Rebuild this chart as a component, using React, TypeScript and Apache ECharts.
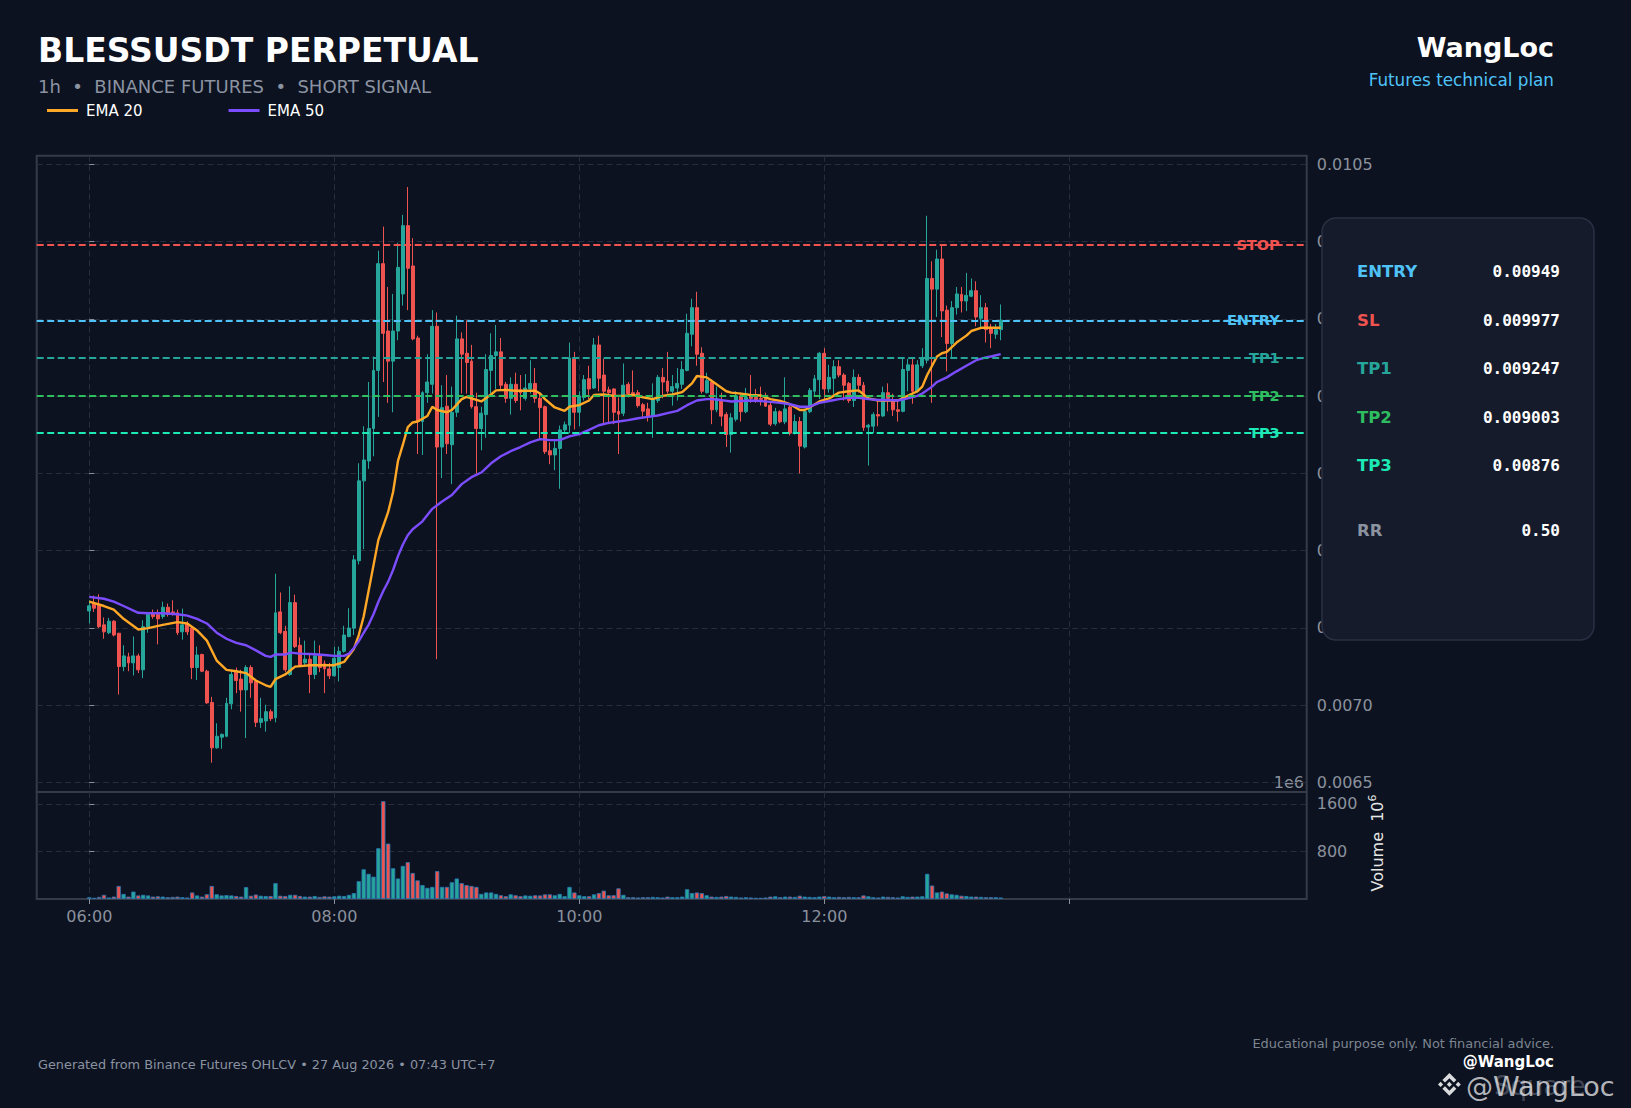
import React, { useEffect, useRef } from "react";
import * as echarts from "echarts";

const W = 1631;
const H = 1108;
const BG = "#0c1220";
const UP = "#26a69a";
const DOWN = "#ef5350";
const GRID_LINE = "#262d3b";
const AXIS_TEXT = "#8b919c";
const FONT = '"DejaVu Sans", sans-serif';
const MONO = '"DejaVu Sans Mono", monospace';

// ---- data ----
const OPEN = [
  0.007609, 0.007657, 0.007648, 0.007519, 0.007468, 0.007543, 0.007465, 0.007249, 0.007312, 0.007273,
  0.007318, 0.007228, 0.007507, 0.007588, 0.007588, 0.007573, 0.007633, 0.007603, 0.007597, 0.007474,
  0.007528, 0.007498, 0.007243, 0.007327, 0.007219, 0.007017, 0.006723, 0.006792, 0.006798, 0.007008,
  0.007213, 0.007168, 0.007098, 0.007243, 0.007153, 0.006888, 0.006897, 0.006957, 0.006918, 0.007603,
  0.007477, 0.007198, 0.007663, 0.007387, 0.007273, 0.007297, 0.007198, 0.007318, 0.007267, 0.007234,
  0.007189, 0.007243, 0.007348, 0.007444, 0.007498, 0.007934, 0.008451, 0.00858, 0.00879, 0.009166,
  0.009857, 0.009421, 0.009226, 0.009421, 0.009661, 0.010103, 0.009842, 0.009376, 0.008835, 0.009022,
  0.009076, 0.009452, 0.00867, 0.008934, 0.008685, 0.008895, 0.00937, 0.009277, 0.009226, 0.008931,
  0.00879, 0.00888, 0.009166, 0.009262, 0.009286, 0.009076, 0.008985, 0.009076, 0.00904, 0.008985,
  0.009046, 0.009082, 0.008985, 0.008931, 0.008646, 0.008619, 0.008661, 0.008781, 0.008811, 0.009241,
  0.008895, 0.008991, 0.009112, 0.009052, 0.009331, 0.009136, 0.00904, 0.009046, 0.008901, 0.008889,
  0.009076, 0.009022, 0.009022, 0.008944, 0.008917, 0.00887, 0.008971, 0.009121, 0.009097, 0.009031,
  0.009052, 0.009076, 0.009166, 0.0094, 0.009572, 0.009277, 0.009022, 0.009091, 0.008911, 0.008977,
  0.00888, 0.008751, 0.00885, 0.009001, 0.008899, 0.00901, 0.008992, 0.008985, 0.008985, 0.008941,
  0.008821, 0.008899, 0.008833, 0.008929, 0.00876, 0.008835, 0.00867, 0.008899, 0.009031, 0.009106,
  0.009277, 0.009046, 0.009115, 0.00919, 0.009136, 0.009082, 0.008971, 0.009121, 0.00907, 0.008799,
  0.008805, 0.00888, 0.008871, 0.009022, 0.008977, 0.008911, 0.008901, 0.009166, 0.009202, 0.009031,
  0.009196, 0.009232, 0.009761, 0.009692, 0.009887, 0.009556, 0.00934, 0.009572, 0.009658, 0.009615,
  0.009646, 0.009682, 0.009503, 0.009572, 0.009442, 0.0094, 0.00943,
];
const CLOSE = [
  0.007642, 0.007627, 0.007507, 0.007474, 0.007543, 0.007453, 0.007249, 0.007318, 0.007273, 0.007318,
  0.007228, 0.007507, 0.007588, 0.007573, 0.007558, 0.007633, 0.007588, 0.007588, 0.007468, 0.007519,
  0.007474, 0.007243, 0.007324, 0.007219, 0.007014, 0.006723, 0.006798, 0.00681, 0.007011, 0.007198,
  0.007159, 0.007098, 0.007243, 0.007144, 0.006888, 0.006912, 0.006957, 0.006912, 0.007597, 0.007468,
  0.007228, 0.007663, 0.007378, 0.007258, 0.007297, 0.007198, 0.007318, 0.007243, 0.007234, 0.007189,
  0.007303, 0.007348, 0.007453, 0.007498, 0.00794, 0.008451, 0.008586, 0.00879, 0.009166, 0.009857,
  0.009406, 0.009226, 0.009421, 0.009833, 0.010103, 0.009827, 0.00937, 0.008835, 0.009022, 0.009091,
  0.009452, 0.00867, 0.008925, 0.008691, 0.008895, 0.00937, 0.009271, 0.009217, 0.008931, 0.00879,
  0.008889, 0.009172, 0.009262, 0.009286, 0.00907, 0.008985, 0.009076, 0.008971, 0.009022, 0.009052,
  0.009082, 0.008985, 0.008925, 0.00864, 0.008619, 0.008661, 0.008781, 0.008814, 0.009247, 0.008895,
  0.009001, 0.009106, 0.009046, 0.009331, 0.009115, 0.009031, 0.009022, 0.008895, 0.008883, 0.00907,
  0.009016, 0.00901, 0.008938, 0.008902, 0.00887, 0.008974, 0.009121, 0.009091, 0.009031, 0.009061,
  0.009082, 0.009172, 0.009406, 0.009572, 0.009271, 0.009031, 0.0091, 0.008911, 0.008985, 0.00887,
  0.008751, 0.008859, 0.009001, 0.008899, 0.008992, 0.008985, 0.008977, 0.008979, 0.008935, 0.008818,
  0.008899, 0.008833, 0.008917, 0.00876, 0.008835, 0.008676, 0.008899, 0.009037, 0.009112, 0.009277,
  0.009046, 0.009121, 0.00919, 0.009136, 0.00907, 0.008971, 0.009121, 0.00907, 0.008796, 0.008811,
  0.00888, 0.008871, 0.009022, 0.008985, 0.008911, 0.008901, 0.009172, 0.009202, 0.009031, 0.009202,
  0.009241, 0.009761, 0.009692, 0.009887, 0.009551, 0.00934, 0.009572, 0.009661, 0.009615, 0.009652,
  0.009682, 0.009512, 0.009572, 0.00943, 0.009406, 0.00943, 0.009491,
];
const LOW = [
  0.007528, 0.007603, 0.007498, 0.007429, 0.007459, 0.007444, 0.007068, 0.007219, 0.007219, 0.007192,
  0.007207, 0.007174, 0.007468, 0.007558, 0.007393, 0.007558, 0.007573, 0.007579, 0.007453, 0.007423,
  0.007453, 0.007168, 0.007162, 0.007213, 0.007008, 0.006627, 0.006717, 0.006717, 0.006792, 0.006972,
  0.007077, 0.006957, 0.006786, 0.007047, 0.006858, 0.006852, 0.006828, 0.006897, 0.006888, 0.007459,
  0.007213, 0.007189, 0.007369, 0.007252, 0.007258, 0.007077, 0.007168, 0.007213, 0.007077, 0.007168,
  0.007183, 0.007153, 0.007339, 0.007438, 0.007453, 0.00791, 0.008009, 0.008529, 0.00861, 0.008865,
  0.009091, 0.008956, 0.008895, 0.009361, 0.009586, 0.009556, 0.009361, 0.008625, 0.008619, 0.008956,
  0.009016, 0.007297, 0.008469, 0.008625, 0.00843, 0.008865, 0.009016, 0.009016, 0.008919, 0.008499,
  0.008649, 0.00873, 0.009016, 0.009046, 0.009046, 0.008956, 0.00888, 0.008956, 0.008908, 0.008971,
  0.009016, 0.008956, 0.008715, 0.008625, 0.008559, 0.00852, 0.0084, 0.00876, 0.00876, 0.008784,
  0.008805, 0.008971, 0.00898, 0.009046, 0.009031, 0.008818, 0.008818, 0.008818, 0.008625, 0.00887,
  0.008991, 0.009001, 0.008925, 0.008865, 0.008835, 0.00873, 0.008956, 0.008985, 0.009016, 0.008938,
  0.008971, 0.009046, 0.00916, 0.009322, 0.009196, 0.009016, 0.009016, 0.008818, 0.008895, 0.008805,
  0.00867, 0.008634, 0.008835, 0.008835, 0.008889, 0.008956, 0.008956, 0.008938, 0.008929, 0.008805,
  0.008809, 0.008824, 0.008818, 0.008745, 0.008751, 0.008499, 0.008661, 0.008889, 0.009001, 0.00898,
  0.008959, 0.009022, 0.00901, 0.009121, 0.008971, 0.008956, 0.008929, 0.009022, 0.008775, 0.00855,
  0.00876, 0.008805, 0.008865, 0.008901, 0.008871, 0.008835, 0.008895, 0.009031, 0.00895, 0.009022,
  0.009181, 0.009211, 0.008956, 0.009512, 0.009382, 0.00916, 0.009241, 0.009527, 0.009541, 0.009551,
  0.00964, 0.009452, 0.009436, 0.009346, 0.00931, 0.00937, 0.009361,
];
const HIGH = [
  0.007678, 0.007708, 0.007717, 0.007567, 0.007564, 0.007549, 0.007465, 0.007387, 0.007339, 0.007444,
  0.007333, 0.007549, 0.007603, 0.007618, 0.007618, 0.007669, 0.007657, 0.007678, 0.007618, 0.007624,
  0.007543, 0.007513, 0.007378, 0.007333, 0.007228, 0.007053, 0.006882, 0.006816, 0.007047, 0.007228,
  0.007243, 0.007228, 0.007258, 0.007258, 0.007153, 0.007047, 0.007002, 0.006972, 0.00785, 0.007729,
  0.007513, 0.007769, 0.007714, 0.007438, 0.007417, 0.007333, 0.007417, 0.007387, 0.007288, 0.007273,
  0.007378, 0.007378, 0.007513, 0.007627, 0.00797, 0.008565, 0.008805, 0.009091, 0.009256, 0.009941,
  0.010097, 0.009706, 0.009661, 0.009992, 0.010173, 0.010353, 0.010022, 0.009391, 0.009031, 0.009271,
  0.009556, 0.009541, 0.00907, 0.009136, 0.009061, 0.00952, 0.009412, 0.00949, 0.009331, 0.009022,
  0.008931, 0.009271, 0.009406, 0.00946, 0.009376, 0.009091, 0.009121, 0.009151, 0.009136, 0.009142,
  0.009232, 0.009181, 0.009022, 0.008938, 0.0087, 0.008715, 0.008809, 0.008835, 0.009346, 0.009286,
  0.009031, 0.009136, 0.009196, 0.009376, 0.009391, 0.009241, 0.009061, 0.009052, 0.008991, 0.009211,
  0.009091, 0.009166, 0.00904, 0.008956, 0.008956, 0.009082, 0.009136, 0.009181, 0.009286, 0.009136,
  0.009181, 0.009226, 0.009533, 0.00963, 0.009675, 0.009316, 0.009151, 0.009106, 0.009061, 0.009022,
  0.008895, 0.008889, 0.009031, 0.009022, 0.009052, 0.009136, 0.009046, 0.009061, 0.009022, 0.008956,
  0.008923, 0.008908, 0.009121, 0.008938, 0.00888, 0.008865, 0.008919, 0.009052, 0.009136, 0.009286,
  0.00931, 0.009202, 0.009232, 0.009232, 0.009148, 0.009091, 0.009172, 0.009142, 0.009091, 0.00882,
  0.008895, 0.008971, 0.009061, 0.009082, 0.009016, 0.008971, 0.009241, 0.009241, 0.009241, 0.009232,
  0.00931, 0.010167, 0.009872, 0.009947, 0.009971, 0.009586, 0.009615, 0.009706, 0.009706, 0.009797,
  0.009761, 0.009743, 0.009653, 0.009602, 0.009466, 0.009466, 0.009593,
];
const VOLUME = [
  30, 20, 35, 70, 25, 40, 220, 86, 40, 125,
  60, 70, 60, 40, 45, 40, 30, 35, 40, 30,
  25, 110, 60, 40, 80, 220, 80, 60, 65, 60,
  50, 40, 200, 55, 75, 55, 50, 50, 267, 55,
  50, 70, 70, 50, 40, 40, 50, 35, 45, 40,
  45, 55, 50, 70, 100, 300, 500, 424, 376, 855,
  1647, 933, 518, 345, 557, 620, 439, 314, 235, 188,
  204, 470, 204, 204, 282, 345, 267, 235, 220, 204,
  86, 110, 110, 86, 63, 47, 78, 63, 47, 60,
  55, 63, 60, 78, 78, 63, 86, 47, 204, 110,
  63, 47, 47, 78, 100, 141, 63, 63, 180, 70,
  30, 30, 25, 30, 30, 35, 30, 25, 40, 30,
  30, 40, 165, 100, 110, 100, 63, 40, 35, 40,
  50, 40, 35, 25, 30, 25, 20, 20, 25, 40,
  45, 30, 40, 40, 35, 55, 40, 35, 30, 40,
  50, 40, 30, 35, 30, 35, 30, 30, 60, 45,
  30, 25, 40, 35, 30, 25, 45, 35, 40, 40,
  45, 424, 227, 110, 125, 94, 78, 70, 55, 50,
  40, 40, 35, 30, 30, 30, 25,
];
const EMA20 = [
  [0, 0.007669], [3, 0.007641], [5, 0.007618], [7, 0.007558], [10, 0.007489], [12, 0.007498], [15, 0.007519],
  [18, 0.007537], [20, 0.007528], [22, 0.007483], [24, 0.007417], [26, 0.007288], [28, 0.007228], [30, 0.007219],
  [32, 0.007207], [34, 0.007159], [36, 0.007128], [37, 0.007117], [38, 0.007168], [40, 0.007198], [42, 0.007249],
  [45, 0.007258], [48, 0.007258], [50, 0.007258], [52, 0.007279], [54, 0.007363], [55, 0.007453], [56, 0.007573],
  [57, 0.007738], [58, 0.007904], [59, 0.008069], [60, 0.008159], [61, 0.00825], [62, 0.008379], [63, 0.00858],
  [64, 0.008685], [65, 0.008799], [66, 0.008829], [67, 0.008835], [69, 0.008871], [70, 0.008931], [71, 0.00891],
  [73, 0.008895], [74, 0.00891], [76, 0.00898], [77, 0.008995], [78, 0.008985], [80, 0.008965], [82, 0.00901],
  [83, 0.009037], [85, 0.00904], [87, 0.009034], [89, 0.009034], [91, 0.009034], [92, 0.009016], [93, 0.00898],
  [95, 0.008926], [97, 0.008904], [98, 0.008931], [100, 0.008941], [102, 0.008971], [103, 0.009007], [105, 0.00901],
  [107, 0.009001], [109, 0.009001], [111, 0.009007], [113, 0.008992], [115, 0.00898], [117, 0.009001], [119, 0.00901],
  [121, 0.009025], [123, 0.009082], [124, 0.00913], [126, 0.009121], [128, 0.009076], [130, 0.009031], [131, 0.009022],
  [133, 0.009016], [135, 0.009007], [137, 0.009004], [139, 0.00898], [141, 0.008968], [143, 0.008947], [145, 0.00891],
  [146, 0.00891], [147, 0.008926], [149, 0.008965], [151, 0.008985], [153, 0.009022], [155, 0.009031], [157, 0.009037],
  [159, 0.008985], [161, 0.008971], [163, 0.008971], [165, 0.008971], [167, 0.009001], [169, 0.009031], [170, 0.009061],
  [171, 0.009136], [172, 0.009196], [173, 0.009256], [174, 0.009277], [175, 0.009286], [177, 0.009346], [179, 0.009391],
  [180, 0.009421], [182, 0.009442], [184, 0.009442], [186, 0.009442],
];
const EMA50 = [
  [0, 0.0077], [3, 0.007688], [5, 0.007669], [7, 0.007641], [10, 0.007597], [12, 0.007594], [15, 0.007594],
  [18, 0.007588], [20, 0.007579], [22, 0.007558], [24, 0.007528], [26, 0.007468], [28, 0.007429], [30, 0.007402],
  [32, 0.007387], [34, 0.007354], [36, 0.007318], [37, 0.007312], [38, 0.007327], [40, 0.007327], [41, 0.007339],
  [43, 0.007333], [45, 0.00733], [48, 0.007324], [50, 0.007318], [52, 0.007318], [53, 0.007333], [54, 0.007369],
  [55, 0.007414], [56, 0.007468], [57, 0.007519], [58, 0.007588], [59, 0.007669], [60, 0.007738], [61, 0.007799],
  [62, 0.007874], [63, 0.007964], [64, 0.008039], [65, 0.008099], [66, 0.008138], [68, 0.008189], [70, 0.00827],
  [72, 0.008318], [74, 0.00836], [76, 0.00843], [78, 0.008475], [80, 0.008505], [82, 0.008565], [84, 0.00861],
  [86, 0.008643], [88, 0.00867], [90, 0.0087], [92, 0.008721], [94, 0.008715], [96, 0.008715], [98, 0.008739],
  [100, 0.008754], [102, 0.008781], [104, 0.008811], [106, 0.008826], [108, 0.008835], [110, 0.008844], [112, 0.008856],
  [114, 0.008865], [116, 0.008874], [118, 0.008889], [120, 0.008904], [122, 0.008941], [124, 0.008971], [126, 0.00898],
  [127, 0.00898], [129, 0.008974], [131, 0.008965], [133, 0.008968], [135, 0.008971], [137, 0.008968], [139, 0.008962],
  [141, 0.008956], [143, 0.008947], [145, 0.008931], [147, 0.008931], [149, 0.008956], [151, 0.008968], [153, 0.00898],
  [155, 0.008989], [157, 0.008989], [159, 0.00898], [161, 0.008974], [163, 0.008974], [165, 0.008971], [167, 0.008985],
  [169, 0.009001], [170, 0.009016], [172, 0.009061], [173, 0.009091], [175, 0.009121], [177, 0.00916], [179, 0.009196],
  [181, 0.009232], [183, 0.00925], [184, 0.009256], [186, 0.009271],
];

const LEVELS = [
  { tag: "STOP", panel: "SL", value: 0.009977, text: "0.009977", color: "#ef5350" },
  { tag: "ENTRY", panel: "ENTRY", value: 0.00949, text: "0.00949", color: "#4fc3f7" },
  { tag: "TP1", panel: "TP1", value: 0.009247, text: "0.009247", color: "#26a69a" },
  { tag: "TP2", panel: "TP2", value: 0.009003, text: "0.009003", color: "#2ebd5f" },
  { tag: "TP3", panel: "TP3", value: 0.00876, text: "0.00876", color: "#1de9b6" },
];
const PANEL_ORDER = ["ENTRY", "SL", "TP1", "TP2", "TP3"];
const RR_VALUE = "0.50";

const PRICE_TICKS = [0.0065, 0.007, 0.0075, 0.008, 0.0085, 0.009, 0.0095, 0.01, 0.0105];
const VOLUME_TICKS = [800, 1600];
const TIME_TICKS = [0, 50, 100, 150, 200];
const TIME_LABELS = ["06:00", "08:00", "10:00", "12:00", ""];

const TITLE = "BLESSUSDT PERPETUAL";
const SUBTITLE = "1h  •  BINANCE FUTURES  •  SHORT SIGNAL";
const BRAND = "WangLoc";
const BRAND_SUB = "Futures technical plan";
const FOOTER_LEFT = "Generated from Binance Futures OHLCV • 27 Aug 2026 • 07:43 UTC+7";
const DISCLAIMER = "Educational purpose only. Not financial advice.";
const HANDLE = "@WangLoc";

const LOGO_PATH =
  "M16.624 13.92l2.718 2.716-7.353 7.353-7.353-7.352 2.717-2.717 4.636 4.66 4.635-4.66zm4.637-4.637L24 12l-2.715 2.716L18.568 12l2.693-2.717zm-9.272.001l2.716 2.691-2.716 2.718L9.272 12l2.717-2.716zm-9.272-.001L5.409 12l-2.692 2.692L0 12l2.717-2.717zM11.989.012l7.353 7.329-2.718 2.715-4.635-4.635-4.636 4.659-2.717-2.715L11.989.012z";

// layout (pixels)
const G_LEFT = 36.7;
const G_WIDTH = 1270;
const P_TOP = 155.7;
const P_HEIGHT = 636.3;
const V_TOP = 792;
const V_HEIGHT = 107;
const X_MIN = -10.73;
const X_MAX = 248.45;
const P_MIN = 0.0064372;
const P_MAX = 0.0105557;
const V_MAX = 1802;

export default function App() {
  const ref = useRef<HTMLDivElement>(null);

  useEffect(() => {
    document.body.style.margin = "0";
    document.body.style.background = BG;
    echarts.graphic.registerShape("binanceLogo", echarts.graphic.extendPath(LOGO_PATH, {}) as any);
    const chart = echarts.init(ref.current!, null, { renderer: "svg", width: W, height: H });

    const candles = OPEN.map((o, i) => [i, o, CLOSE[i], LOW[i], HIGH[i]]);
    const vols = VOLUME.map((v, i) => ({
      value: [i, v],
      itemStyle: { color: CLOSE[i] >= OPEN[i] ? UP : DOWN },
    }));

    const splitLine = { show: true, lineStyle: { color: GRID_LINE, type: [6, 3.5], width: 1 } };

    const panelRows: any[] = [];
    const rowY = [271, 320, 368, 417, 465];
    PANEL_ORDER.forEach((name, k) => {
      const lv = LEVELS.find((l) => l.panel === name)!;
      panelRows.push({
        type: "text", x: 1357, y: rowY[k], z: 101,
        style: { text: lv.panel, fill: lv.color, font: `bold 16.5px ${FONT}`, verticalAlign: "middle" },
      });
      panelRows.push({
        type: "text", x: 1560, y: rowY[k], z: 101,
        style: { text: lv.text, fill: "#ffffff", font: `bold 16px ${MONO}`, align: "right", verticalAlign: "middle" },
      });
    });
    panelRows.push({
      type: "text", x: 1357, y: 530, z: 101,
      style: { text: "RR", fill: "#8b93a1", font: `bold 16.5px ${FONT}`, verticalAlign: "middle" },
    });
    panelRows.push({
      type: "text", x: 1560, y: 530, z: 101,
      style: { text: RR_VALUE, fill: "#ffffff", font: `bold 16px ${MONO}`, align: "right", verticalAlign: "middle" },
    });

    const option: any = {
      animation: false,
      backgroundColor: BG,
      textStyle: { fontFamily: FONT },
      legend: {
        left: 47, top: 103, padding: 0, itemWidth: 31, itemHeight: 3, itemGap: 86, icon: "rect",
        textStyle: { color: "#ffffff", fontSize: 15, fontFamily: FONT, padding: [0, 0, 0, 3] },
        data: ["EMA 20", "EMA 50"],
      },
      grid: [
        { left: G_LEFT, top: P_TOP, width: G_WIDTH, height: P_HEIGHT, show: true, borderColor: "#353b47", borderWidth: 2, backgroundColor: "transparent" },
        { left: G_LEFT, top: V_TOP, width: G_WIDTH, height: V_HEIGHT, show: true, borderColor: "#353b47", borderWidth: 2, backgroundColor: "transparent" },
      ],
      xAxis: [
        {
          type: "value", gridIndex: 0, min: X_MIN, max: X_MAX,
          axisLine: { show: false }, axisTick: { show: false, customValues: TIME_TICKS },
          axisLabel: { show: false, customValues: TIME_TICKS }, splitLine,
        },
        {
          type: "value", gridIndex: 1, min: X_MIN, max: X_MAX,
          axisLine: { show: false },
          axisTick: { show: true, length: 5, customValues: TIME_TICKS, lineStyle: { color: AXIS_TEXT } },
          axisLabel: {
            show: true, customValues: TIME_TICKS, margin: 9, color: AXIS_TEXT, fontSize: 16, fontFamily: FONT,
            formatter: (v: number) => TIME_LABELS[TIME_TICKS.indexOf(Math.round(v))] ?? "",
          },
          splitLine,
        },
      ],
      yAxis: [
        {
          type: "value", gridIndex: 0, position: "right", min: P_MIN, max: P_MAX, splitNumber: 8,
          axisLine: { show: false },
          axisTick: { show: true, length: 5, customValues: PRICE_TICKS, lineStyle: { color: AXIS_TEXT } },
          axisLabel: {
            customValues: PRICE_TICKS, margin: 10, color: AXIS_TEXT, fontSize: 16, fontFamily: FONT,
            formatter: (v: number) => v.toFixed(4),
          },
          splitLine,
        },
        {
          type: "value", gridIndex: 1, position: "right", min: 0, max: V_MAX,
          axisLine: { show: false },
          axisTick: { show: true, length: 5, customValues: VOLUME_TICKS, lineStyle: { color: AXIS_TEXT } },
          axisLabel: {
            customValues: VOLUME_TICKS, margin: 10, color: AXIS_TEXT, fontSize: 16, fontFamily: FONT,
            formatter: (v: number) => String(Math.round(v)),
          },
          splitLine,
        },
      ],
      series: [
        {
          name: "OHLC", type: "candlestick", xAxisIndex: 0, yAxisIndex: 0,
          data: candles, encode: { x: 0, y: [1, 2, 3, 4] }, barWidth: 3.4, z: 3,
          itemStyle: { color: UP, color0: DOWN, borderColor: UP, borderColor0: DOWN, borderWidth: 1 },
        },
        {
          name: "EMA 20", type: "line", xAxisIndex: 0, yAxisIndex: 0, data: EMA20,
          showSymbol: false, symbol: "none", color: "#ffa726", lineStyle: { color: "#ffa726", width: 2.4 }, z: 4,
          markLine: {
            silent: true, symbol: ["none", "none"], precision: 6,
            data: LEVELS.map((l) => ({
              yAxis: l.value,
              lineStyle: { color: l.color, type: [7, 3.5], width: 1.8 },
              label: {
                show: true, position: "insideEnd", distance: [27, 0], formatter: l.tag,
                color: l.color, fontWeight: "bold", fontSize: 14.5, fontFamily: FONT,
              },
            })),
          },
        },
        {
          name: "EMA 50", type: "line", xAxisIndex: 0, yAxisIndex: 0, data: EMA50,
          showSymbol: false, symbol: "none", color: "#7c4dff", lineStyle: { color: "#7c4dff", width: 2.4 }, z: 4,
        },
        {
          name: "Volume", type: "bar", xAxisIndex: 1, yAxisIndex: 1, data: vols, barWidth: 4.3,
          itemStyle: { borderColor: "#2a77b4", borderWidth: 0.8 },
        },
      ],
      graphic: [
        { type: "text", x: 38, y: 50, style: { text: TITLE, fill: "#ffffff", font: `bold 33px ${FONT}`, verticalAlign: "middle" } },
        { type: "text", x: 38, y: 86, style: { text: SUBTITLE, fill: "#8b93a1", font: `18px ${FONT}`, verticalAlign: "middle" } },
        { type: "text", x: 1554, y: 47, style: { text: BRAND, fill: "#ffffff", font: `bold 27px ${FONT}`, align: "right", verticalAlign: "middle" } },
        { type: "text", x: 1554, y: 80, style: { text: BRAND_SUB, fill: "#4fc3f7", font: `16.8px ${FONT}`, align: "right", verticalAlign: "middle" } },
        { type: "text", x: 38, y: 1064, style: { text: FOOTER_LEFT, fill: "#8b93a1", font: `12.85px ${FONT}`, verticalAlign: "middle" } },
        { type: "text", x: 1554, y: 1043, style: { text: DISCLAIMER, fill: "#7d8590", font: `12.9px ${FONT}`, align: "right", verticalAlign: "middle" } },
        { type: "text", x: 1554, y: 1062, style: { text: HANDLE, fill: "#ffffff", font: `bold 15px ${FONT}`, align: "right", verticalAlign: "middle" } },
        { type: "text", x: 1304, y: 782, style: { text: "1e6", fill: AXIS_TEXT, font: `16px ${FONT}`, align: "right", verticalAlign: "middle" } },
        {
          type: "text", x: 1377, y: 843, rotation: Math.PI / 2,
          style: {
            text: "{a|Volume  10}{b|6}", align: "center", verticalAlign: "middle",
            rich: {
              a: { fill: "#e6e6e6", fontSize: 16, fontFamily: FONT },
              b: { fill: "#e6e6e6", fontSize: 11, fontFamily: FONT, padding: [0, 0, 10, 0] },
            },
          },
        },
        { type: "rect", z: 100, shape: { x: 1322, y: 218, width: 272, height: 422, r: 14 }, style: { fill: "#151b2b", stroke: "#283042", lineWidth: 1.5 } },
        ...panelRows,
        { type: "binanceLogo", x: 1438, y: 1073, scaleX: 0.95, scaleY: 0.95, z: 101, style: { fill: "rgba(255,255,255,0.85)" } },
        { type: "text", x: 1494, y: 1086, z: 101, style: { text: "Square", fill: "rgba(150,156,168,0.4)", font: `26px ${FONT}`, verticalAlign: "middle" } },
        { type: "text", x: 1466, y: 1086, z: 102, style: { text: HANDLE, fill: "rgba(255,255,255,0.7)", font: `27px ${FONT}`, verticalAlign: "middle" } },
      ],
    };

    chart.setOption(option);
    return () => chart.dispose();
  }, []);

  return <div ref={ref} style={{ width: W, height: H }} />;
}
